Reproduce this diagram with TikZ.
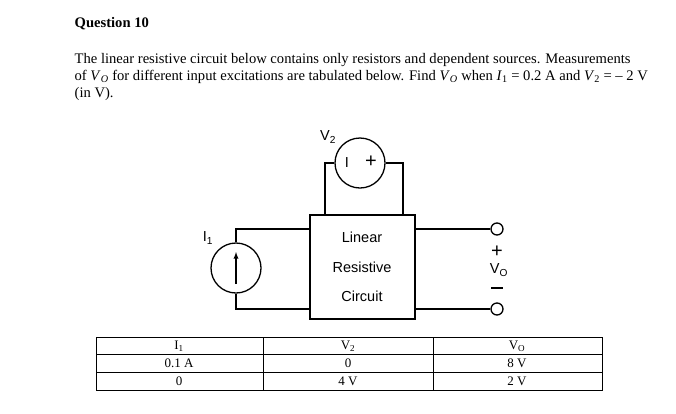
\documentclass[tikz,border=0pt]{standalone}
\usepackage{fontspec}
\setmainfont{Liberation Serif}
\newfontfamily\cs{Liberation Sans}
\begin{document}
\begin{tikzpicture}[x=1pt,y=-1pt,line width=1.3pt,
  txt/.style={anchor=base west,inner sep=0pt,font=\fontsize{14.6}{16}\selectfont},
  lab/.style={inner sep=0pt,font=\cs\fontsize{14.5}{16}\selectfont},
  tab/.style={inner sep=0pt,font=\fontsize{13}{15}\selectfont},
  term/.style={circle,draw,minimum size=12pt,inner sep=0pt},
  src/.style={circle,draw,inner sep=0pt}]
\useasboundingbox (0,0) rectangle (676,413);
\node[txt,font=\bfseries\fontsize{14.6}{16}\selectfont] (q) at (74,27) {Question 10};
\node[txt] (l1) at (74,63) {The linear resistive circuit below contains only resistors and dependent sources. Measurements};
\node[txt] (l2) at (74,80) {of \textit{V}\textsubscript{\textit{O}} for different input excitations are tabulated below. Find \textit{V}\textsubscript{\textit{O}} when \textit{I}\textsubscript{1} = 0.2 A and \textit{V}\textsubscript{2} = -- 2 V};
\node[txt] (l3) at (74,97) {(in V).};
% circuit
\node[draw,minimum width=105pt,minimum height=104pt,inner sep=0pt] (box) at (362.5,267) {};
\node[lab] (t1) at (362,237) {Linear};
\node[lab] (t2) at (362,267) {Resistive};
\node[lab] (t3) at (362,296) {Circuit};
\node[src,minimum size=50pt] (v2) at (360,163) {};
\node[lab] (v2m) at (347,163) {I};
\node[lab,font=\cs\fontsize{20}{20}\selectfont] (v2p) at (371,162) {+};
\node[lab] (v2l) at (328,137) {V\textsubscript{2}};
\coordinate (a1) at (325,215); \coordinate (a2) at (325,163);
\coordinate (b1) at (403,215); \coordinate (b2) at (403,163);
\draw (a1) -- (a2) -- (v2.west);
\draw (b1) -- (b2) -- (v2.east);
\node[src,minimum size=50pt] (i1) at (236,268) {};
\draw[-latex] (236,284) -- (236,252);
\node[lab] (i1l) at (208,238) {I\textsubscript{1}};
\coordinate (c1) at (310,229); \coordinate (c2) at (236,229);
\coordinate (d1) at (310,309); \coordinate (d2) at (236,309);
\draw (c1) -- (c2) -- (i1.north);
\draw (d1) -- (d2) -- (i1.south);
\node[term] (o1) at (497,229) {};
\node[term] (o2) at (497,309) {};
\draw (415,229) -- (o1.west);
\draw (415,309) -- (o2.west);
\node[lab,font=\cs\fontsize{20}{20}\selectfont] (pl) at (497,252) {+};
\node[lab] (vo) at (499,270) {V\textsubscript{O}};
\coordinate (m1) at (491,288); \coordinate (m2) at (503,288);
\draw (m1) -- (m2);
% table
\begin{scope}[line width=1pt]
\draw (96,337) rectangle (602,390);
\draw (96,354) -- (602,354);
\draw (96,372) -- (602,372);
\draw (263,337) -- (263,390);
\draw (433,337) -- (433,390);
\end{scope}
\node[tab] (h1) at (179,346) {I\textsubscript{1}};
\node[tab] (h2) at (348,346) {V\textsubscript{2}};
\node[tab] (h3) at (517,346) {V\textsubscript{O}};
\node[tab] (r11) at (179,363) {0.1 A};
\node[tab] (r12) at (348,363) {0};
\node[tab] (r13) at (517,363) {8 V};
\node[tab] (r21) at (179,381) {0};
\node[tab] (r22) at (348,381) {4 V};
\node[tab] (r23) at (517,381) {2 V};
\end{tikzpicture}
\end{document}
